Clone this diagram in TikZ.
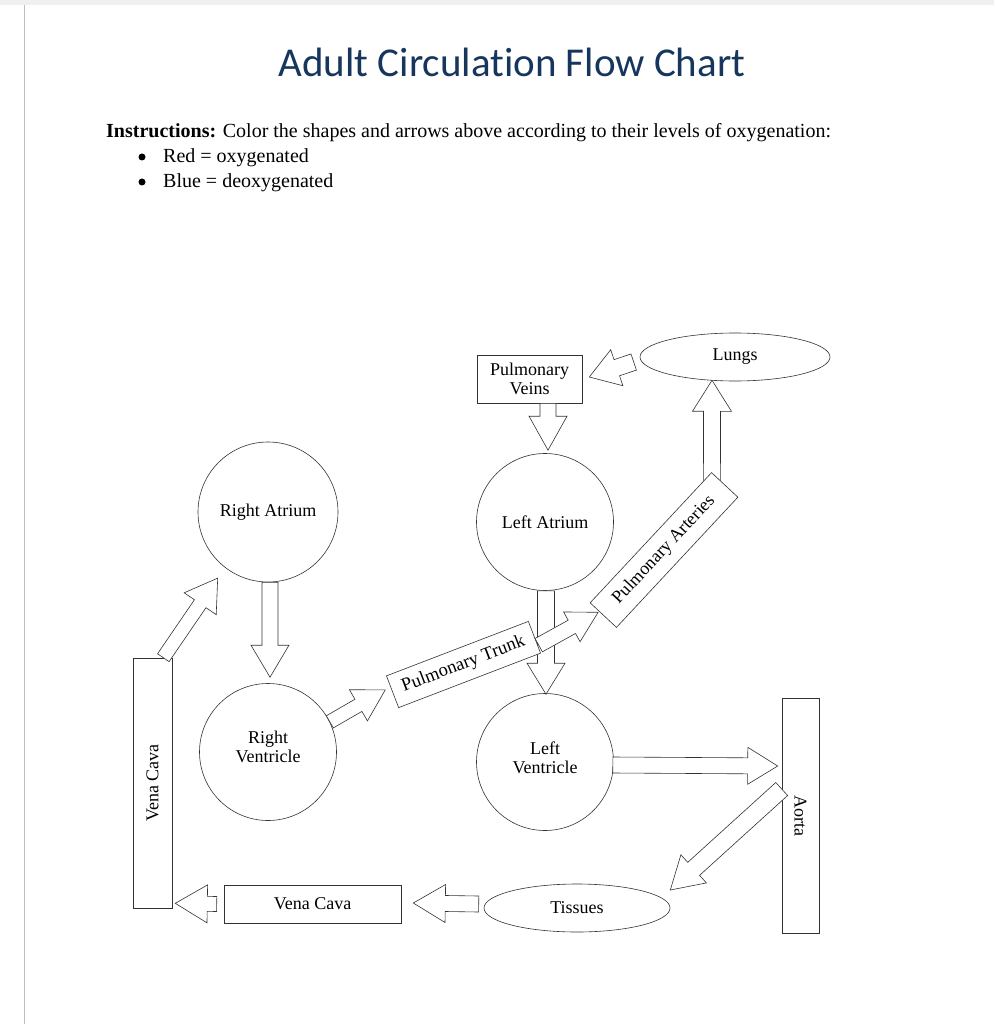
\documentclass[tikz,border=0pt]{standalone}
\usepackage{fontspec}
\setmainfont{Liberation Serif}
\newfontfamily\titlefont[Ligatures=NoCommon]{Carlito}
\usetikzlibrary{calc,shapes.geometric}
\pgfdeclarelayer{behind}
\pgfsetlayers{behind,main}
\definecolor{titleblue}{RGB}{23,54,93}
\newcommand\blockarr[5]{%
  \coordinate (bh) at ($(#2)!#5pt!(#1)$);
  \draw[barrow] ($(#1)!#3pt!90:(#2)$) -- ($(bh)!#3pt!90:(#2)$) -- ($(bh)!#4pt!90:(#2)$) -- (#2)
     -- ($(bh)!#4pt!-90:(#2)$) -- ($(bh)!#3pt!-90:(#2)$) -- ($(#1)!#3pt!-90:(#2)$) -- cycle;}
\begin{document}
\begin{tikzpicture}[x=1pt,y=-1pt,
  lbl/.style={font=\fontsize{18}{19.5}\selectfont, align=center, inner sep=0pt},
  shp/.style={draw=black!80, line width=0.6pt, fill=white, inner sep=0pt, lbl},
  circ/.style={shp, circle, minimum size=137pt},
  ell/.style={shp, ellipse, minimum width=188pt, minimum height=48pt},
  box/.style={shp, rectangle},
  itext/.style={font=\fontsize{20}{22}\selectfont, inner sep=0pt},
  barrow/.style={draw=black!80, line width=0.6pt, fill=white, line join=miter}]
\useasboundingbox (0,0) rectangle (994,1024);
\begin{pgfonlayer}{behind}
\fill[white] (0,0) rectangle (994,1024);
\fill[black!6] (0,0) rectangle (994,5);
\draw[black!25, line width=1pt] (24,5) -- (24,1024);
\end{pgfonlayer}

% title and instructions
\node[anchor=base, text=titleblue, font=\titlefont\fontsize{41}{44}\selectfont] (title) at (512,77) {Adult Circulation Flow Chart};
\node[anchor=base west, itext] (instr) at (106,138) {\textbf{Instructions:} Color the shapes and arrows above according to their levels of oxygenation:};
\node[circle, fill=black, minimum size=7pt, inner sep=0pt] (b1) at (142,157) {};
\node[anchor=base west, itext] (t1) at (163,163) {Red = oxygenated};
\node[circle, fill=black, minimum size=7pt, inner sep=0pt] (b2) at (142,182) {};
\node[anchor=base west, itext] (t2) at (163,188) {Blue = deoxygenated};

% shapes
\node[box, minimum width=105pt, minimum height=48pt] (pv) at (529.5,379) {Pulmonary\\Veins};
\node[ell, minimum width=190pt] (lungs) at (735,357) {Lungs};
\node[circ, minimum size=140pt] (ra) at (268,512) {Right Atrium};
\node[circ] (la) at (545,522) {Left Atrium};
\node[circ] (rv) at (268,752) {};
\node[lbl] (rvt) at ($(rv.center)+(0,-5)$) {Right\\Ventricle};
\node[circ] (lv) at (545,762) {};
\node[lbl] (lvt) at ($(lv.center)+(0,-4)$) {Left\\Ventricle};
\node[ell, minimum width=186pt] (tissues) at (577,908) {Tissues};
\node[box, minimum width=177pt, minimum height=38pt] (vcb) at (312.5,904) {Vena Cava};
\node[box, minimum width=37pt, minimum height=235pt] (aorta) at (800.5,815.5) {};
\node[rotate=-90, lbl] (aortat) at (aorta.center) {Aorta};
\node[box, minimum width=39pt, minimum height=250pt] (vcl) at (152.5,783) {};
\node[rotate=90, lbl] (vclt) at (vcl.center) {Vena Cava};

% arrows
\blockarr{$(lungs.west)+(-6,5)$}{$(pv.east)+(7,-2)$}{8.5}{19}{29}
\blockarr{$(pv.south)+(18.5,0)$}{$(la.north)+(3,-3)$}{8}{19}{34}
\blockarr{$(ra.south)+(2,0)$}{$(rv.north)+(2,-6)$}{8}{19}{32}
\blockarr{$(la.south)+(1,0)$}{$(lv.north)+(1,1)$}{8.5}{19}{31}

\node[box, rotate=21, minimum width=152pt, minimum height=34pt, font=\fontsize{18.5}{20}\selectfont] (pt) at (463.5,664.5) {Pulmonary Trunk};
\node[box, rotate=47, minimum width=178pt, minimum height=36pt, font=\fontsize{18}{20}\selectfont] (pa) at (664,550) {Pulmonary Arteries};

\begin{pgfonlayer}{behind}
\blockarr{$(pa.east)+(-13,25)$}{$(lungs.south)+(-23,-1)$}{8.5}{19.5}{31}
\end{pgfonlayer}
\blockarr{rv.26}{$(pt.west)+(-7,-2)$}{7}{18}{31}
\blockarr{$(pt.east)+(4,8)$}{$(pa.west)+(-5,-3)$}{7.6}{17}{30}
\blockarr{$(lv.east)+(-1,3)$}{$(aorta.west)+(-4,-49.5)$}{8}{18.5}{30}
\blockarr{$(aorta.west)+(0,-26.5)$}{$(tissues.east)+(0,-18)$}{8.8}{19}{31.5}
\blockarr{$(tissues.west)+(-5,-4)$}{$(vcb.east)+(12,-1)$}{8}{19}{32}
\blockarr{$(vcb.west)+(-7,0)$}{$(vcl.south east)+(3,-5)$}{7.5}{19}{32}
\blockarr{$(vcl.north east)+(-9,0)$}{$(ra.233)+(-8,10)$}{7}{19.4}{31}
\end{tikzpicture}
\end{document}
